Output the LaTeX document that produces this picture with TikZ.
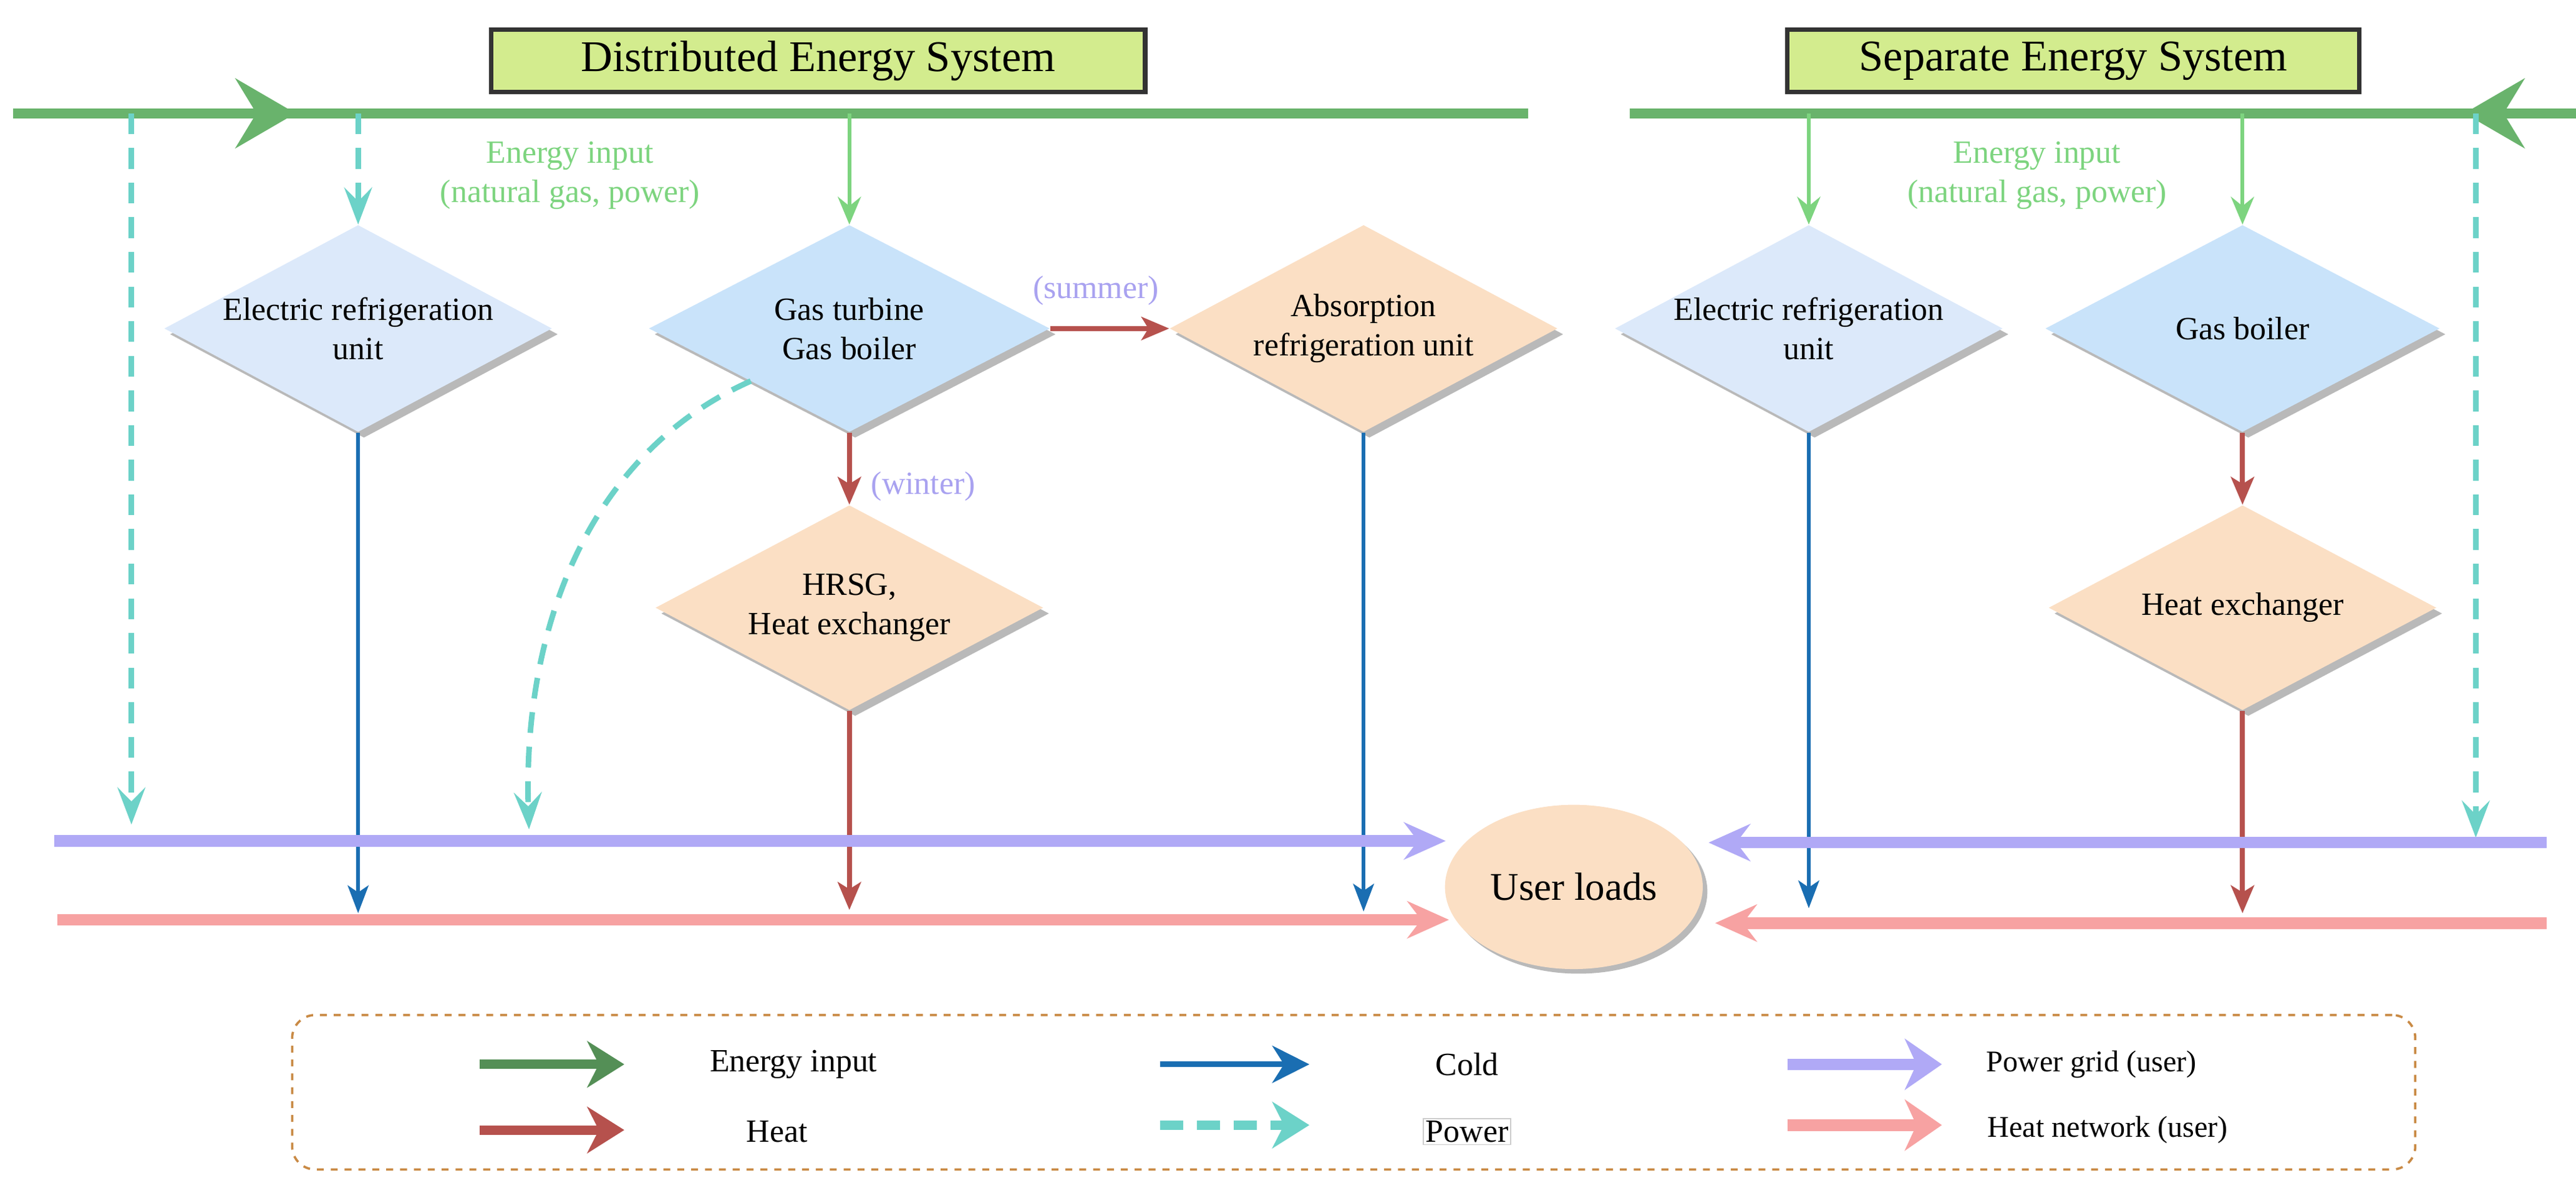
\documentclass[tikz,border=0pt]{standalone}
\usepackage{fontspec}
\setmainfont{Liberation Serif}
\usetikzlibrary{shapes.geometric,arrows.meta,shadows}
\definecolor{gline}{HTML}{69B36C}
\definecolor{garr}{HTML}{7DD47F}
\definecolor{teal}{HTML}{6CD2C8}
\definecolor{cold}{HTML}{1A6EB2}
\definecolor{heat}{HTML}{B6514D}
\definecolor{pgrid}{HTML}{B0A9F6}
\definecolor{hnet}{HTML}{F7A2A2}
\definecolor{dblue}{HTML}{C9E3FA}
\definecolor{lblue}{HTML}{DCE9FA}
\definecolor{dorange}{HTML}{FBDFC4}
\definecolor{titlef}{HTML}{D3EC8E}
\definecolor{lbrown}{HTML}{C98A45}
\definecolor{lav}{HTML}{A9A2F0}
\begin{document}
\begin{tikzpicture}[x=0.025cm,y=-0.025cm,
  dia/.style={diamond,draw=none,inner sep=0pt,minimum width=5.9cm,minimum height=3.15cm,
     drop shadow={shadow xshift=2.5pt,shadow yshift=-2.5pt,fill=gray!55,opacity=1}},
  dtext/.style={font=\fontsize{14}{17}\selectfont,align=center},
  title/.style={draw=black!80,line width=2pt,fill=titlef,font=\fontsize{19}{22}\selectfont,minimum height=0.95cm,inner sep=0pt},
  main/.style={gline,line width=4.2pt},
  inarr/.style={garr,line width=1.6pt,-{Stealth[length=12pt,width=10pt,inset=4pt]}},
  pw/.style={teal,line width=2.4pt,dash pattern=on 9pt off 6pt,-{Stealth[length=16pt,width=12pt,inset=6pt]}},
  cl/.style={cold,line width=1.6pt,-{Stealth[length=12pt,width=9pt,inset=3pt]}},
  ht/.style={heat,line width=2.2pt,-{Stealth[length=12pt,width=10pt,inset=3pt]}},
  bus/.style={line width=5pt,-{Stealth[length=18pt,width=16pt,inset=6pt]}},
  lab/.style={font=\fontsize{14}{17}\selectfont,align=center},
  leg/.style={font=\fontsize{14}{17}\selectfont}
]
\useasboundingbox (0,0) rectangle (1568,731);
% titles
\node[title,minimum width=9.95cm] (des) at (498,37) {Distributed Energy System};
\node[title,minimum width=8.7cm] (ses) at (1262,37) {Separate Energy System};
% main green lines
\coordinate (gl0) at (8,69); \coordinate (glm) at (180,69); \coordinate (gl1) at (930,69);
\coordinate (gr0) at (992,69); \coordinate (grm) at (1500,69); \coordinate (gr1) at (1568,69);
\draw[main] (gl0) -- (gl1);
\draw[main,-{Stealth[length=26pt,width=30pt,inset=9pt]}] (gl0) -- (glm);
\draw[main] (gr0) -- (gr1);
\draw[main,-{Stealth[length=26pt,width=30pt,inset=9pt]}] (gr1) -- (grm);
% diamonds
\node[dia,fill=lblue] (eru1) at (218,200) {};
\node[dtext] (eru1t) at (218,200) {Electric refrigeration\\unit};
\node[dia,fill=dblue,minimum width=6.1cm] (gt) at (517,200) {};
\node[dtext] (gtt) at (517,200) {Gas turbine\\Gas boiler};
\node[dia,fill=dorange] (abs) at (830,200) {};
\node[dtext] (abst) at (830,200) {Absorption\\refrigeration unit};
\node[dia,fill=lblue] (eru2) at (1101,200) {};
\node[dtext] (eru2t) at (1101,200) {Electric refrigeration\\unit};
\node[dia,fill=dblue,minimum width=6cm] (gb) at (1365,200) {};
\node[dtext] (gbt) at (1365,200) {Gas boiler};
\node[dia,fill=dorange,minimum height=3.12cm] (hrsg) at (517,370) {};
\node[dtext] (hrsgt) at (517,370) {HRSG,\\Heat exchanger};
\node[dia,fill=dorange,minimum height=3.12cm] (hex) at (1365,370) {};
\node[dtext] (hext) at (1365,370) {Heat exchanger};
% labels
\node[lab,text=garr] (ei1) at (347,107) {Energy input\\(natural gas, power)};
\node[lab,text=garr] (ei2) at (1240,107) {Energy input\\(natural gas, power)};
\node[lab,text=lav] (sum) at (667,177) {(summer)};
\node[lab,text=lav] (win) at (562,296) {(winter)};
% user loads
\node[ellipse,fill=dorange,draw=none,minimum width=3.75cm,minimum height=2.5cm,
  drop shadow={shadow xshift=2pt,shadow yshift=-2pt,fill=gray!55,opacity=1},font=\fontsize{17}{20}\selectfont] (ul) at (958,540) {User loads};
% energy input arrows
\coordinate (t1) at (517,69); \coordinate (t2) at (1101,69); \coordinate (t3) at (1365,69);
\draw[inarr] (t1) -- (gt.north);
\draw[inarr] (t2) -- (eru2.north);
\draw[inarr] (t3) -- (gb.north);
% power dashed
\coordinate (p1) at (80,69); \coordinate (p1e) at (80,502);
\coordinate (p2) at (218,69);
\coordinate (p3) at (1507,69); \coordinate (p3e) at (1507,510);
\coordinate (pc) at (322,505);
\draw[pw] (p1) -- (p1e);
\draw[pw] (p2) -- (eru1.north);
\draw[pw] (p3) -- (p3e);
\draw[pw] (457,232) .. controls (360,275) and (318,380) .. (pc);
% heat arrows
\draw[ht] (gt.east) -- (abs.west);
\draw[ht] (gt.south) -- (hrsg.north);
\draw[ht] (gb.south) -- (hex.north);
\coordinate (h1) at (517,554); \coordinate (h2) at (1365,556);
\draw[ht] (hrsg.south) -- (h1);
\draw[ht] (hex.south) -- (h2);
% cold arrows
\coordinate (c1) at (218,556); \coordinate (c2) at (830,555); \coordinate (c3) at (1101,553);
\draw[cl] (eru1.south) -- (c1);
\draw[cl] (abs.south) -- (c2);
\draw[cl] (eru2.south) -- (c3);
% buses
\coordinate (b1) at (33,512); \coordinate (b1e) at (880,512);
\coordinate (b2) at (1550,513); \coordinate (b2e) at (1040,513);
\coordinate (b3) at (35,560); \coordinate (b3e) at (882,560);
\coordinate (b4) at (1550,562); \coordinate (b4e) at (1044,562);
\draw[bus,pgrid] (b1) -- (b1e);
\draw[bus,pgrid] (b2) -- (b2e);
\draw[bus,hnet] (b3) -- (b3e);
\draw[bus,hnet] (b4) -- (b4e);
% legend
\node[draw=lbrown,dashed,line width=1pt,rounded corners=10pt,minimum width=32.3cm,minimum height=2.35cm] (legbox) at (824,665) {};
\coordinate (l1a) at (292,648); \coordinate (l1b) at (380,648);
\coordinate (l2a) at (292,688); \coordinate (l2b) at (380,688);
\coordinate (l3a) at (706,648); \coordinate (l3b) at (797,648);
\coordinate (l4a) at (706,685); \coordinate (l4b) at (797,685);
\coordinate (l5a) at (1088,648); \coordinate (l5b) at (1182,648);
\coordinate (l6a) at (1088,685); \coordinate (l6b) at (1182,685);
\draw[gline!80!black,line width=4pt,-{Stealth[length=16pt,width=20pt,inset=5pt]}] (l1a) -- (l1b);
\draw[heat,line width=4pt,-{Stealth[length=16pt,width=20pt,inset=5pt]}] (l2a) -- (l2b);
\draw[cold,line width=2.5pt,-{Stealth[length=16pt,width=16pt,inset=5pt]}] (l3a) -- (l3b);
\draw[teal,line width=4pt,dash pattern=on 10pt off 6pt,-{Stealth[length=16pt,width=20pt,inset=5pt]}] (l4a) -- (l4b);
\draw[pgrid,line width=5pt,-{Stealth[length=16pt,width=22pt,inset=5pt]}] (l5a) -- (l5b);
\draw[hnet,line width=5pt,-{Stealth[length=16pt,width=22pt,inset=5pt]}] (l6a) -- (l6b);
\node[leg] (lt1) at (483,648) {Energy input};
\node[leg] (lt2) at (473,689) {Heat};
\node[leg] (lt3) at (893,648) {Cold};
\node[leg,draw=gray!40,inner sep=1pt] (lt4) at (893,689) {Power};
\node[leg,font=\fontsize{13}{16}\selectfont] (lt5) at (1273,648) {Power grid (user)};
\node[leg,font=\fontsize{13}{16}\selectfont] (lt6) at (1283,688) {Heat network (user)};
\end{tikzpicture}
\end{document}
